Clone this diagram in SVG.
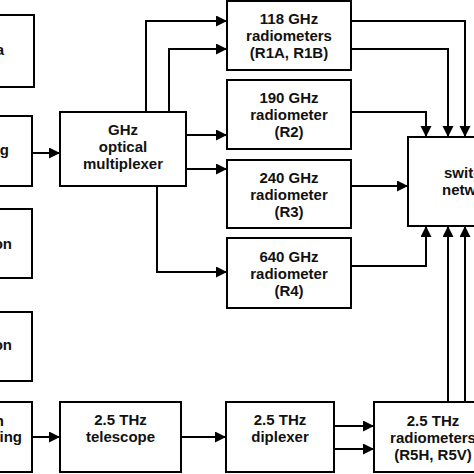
<svg xmlns="http://www.w3.org/2000/svg" width="474" height="474" viewBox="0 0 474 474">
<style>
.box{fill:#fff;stroke:#000;stroke-width:2}
.t{font-family:"Liberation Sans",Arial,sans-serif;font-weight:bold;font-size:15px;fill:#111;text-anchor:middle}
.te{font-family:"Liberation Sans",Arial,sans-serif;font-weight:bold;font-size:15px;fill:#111;text-anchor:end}
.ts{font-family:"Liberation Sans",Arial,sans-serif;font-weight:bold;font-size:15px;fill:#111;text-anchor:start}
.c{fill:none;stroke:#000;stroke-width:2}
</style>
<defs>
<marker id="ah" markerUnits="userSpaceOnUse" markerWidth="12" markerHeight="12" refX="11" refY="5.5" orient="auto">
<path d="M0,0 L11,5.5 L0,11 Z" fill="#000"/>
</marker>
</defs>
<rect width="474" height="474" fill="#fff"/>
<g id="left1"><rect class="box" x="-80" y="15" width="114" height="72"/><text class="te" x="4" y="55">a</text></g>
<g id="left2"><rect class="box" x="-80" y="116" width="112" height="70"/><text class="te" x="9" y="155">g</text></g>
<g id="left3"><rect class="box" x="-80" y="209" width="112" height="69"/><text class="te" x="12" y="249">on</text></g>
<g id="left4"><rect class="box" x="-80" y="312" width="112" height="69"/><text class="te" x="12" y="350">on</text></g>
<g id="left5"><rect class="box" x="-80" y="402" width="112" height="70"/><text class="te" x="4" y="426">n</text><text class="te" x="22" y="442">ing</text></g>
<g id="mux"><rect class="box" x="60" y="112" width="126" height="74"/><text class="t" x="123" y="135">GHz</text><text class="t" x="123" y="152">optical</text><text class="t" x="123" y="169">multiplexer</text></g>
<g id="r118"><rect class="box" x="227" y="1" width="124" height="69"/><text class="t" x="289" y="24">118 GHz</text><text class="t" x="289" y="41">radiometers</text><text class="t" x="289" y="58">(R1A, R1B)</text></g>
<g id="r190"><rect class="box" x="227" y="80" width="124" height="69"/><text class="t" x="289" y="103">190 GHz</text><text class="t" x="289" y="120">radiometer</text><text class="t" x="289" y="137">(R2)</text></g>
<g id="r240"><rect class="box" x="227" y="160" width="124" height="68"/><text class="t" x="289" y="183">240 GHz</text><text class="t" x="289" y="200">radiometer</text><text class="t" x="289" y="217">(R3)</text></g>
<g id="r640"><rect class="box" x="227" y="238" width="124" height="70"/><text class="t" x="289" y="262">640 GHz</text><text class="t" x="289" y="279">radiometer</text><text class="t" x="289" y="296">(R4)</text></g>
<g id="switch"><rect class="box" x="408" y="137" width="140" height="89"/><text class="ts" x="444" y="178">switching</text><text class="ts" x="442" y="195">network</text></g>
<g id="telescope"><rect class="box" x="60" y="402" width="121" height="70"/><text class="t" x="120.5" y="425">2.5 THz</text><text class="t" x="120.5" y="442">telescope</text></g>
<g id="diplexer"><rect class="box" x="226" y="402" width="108" height="70"/><text class="t" x="280" y="425">2.5 THz</text><text class="t" x="280" y="442">diplexer</text></g>
<g id="r25"><rect class="box" x="374" y="402" width="120" height="70"/><text class="t" x="433" y="426">2.5 THz</text><text class="t" x="433" y="443">radiometers</text><text class="t" x="433" y="460">(R5H, R5V)</text></g>
<g id="connectors">
<path class="c" d="M32,153 H60" marker-end="url(#ah)"/>
<path class="c" d="M32,437 H60" marker-end="url(#ah)"/>
<path class="c" d="M146,112 V21 H227" marker-end="url(#ah)"/>
<path class="c" d="M169,112 V49 H227" marker-end="url(#ah)"/>
<path class="c" d="M186,135 H227" marker-end="url(#ah)"/>
<path class="c" d="M186,169 H227" marker-end="url(#ah)"/>
<path class="c" d="M157,186 V272 H227" marker-end="url(#ah)"/>
<path class="c" d="M351,21 H465 V137" marker-end="url(#ah)"/>
<path class="c" d="M351,49 H448 V137" marker-end="url(#ah)"/>
<path class="c" d="M351,112 H426 V137" marker-end="url(#ah)"/>
<path class="c" d="M351,186 H408" marker-end="url(#ah)"/>
<path class="c" d="M351,266 H426 V226" marker-end="url(#ah)"/>
<path class="c" d="M448,402 V226" marker-end="url(#ah)"/>
<path class="c" d="M465,402 V226" marker-end="url(#ah)"/>
<path class="c" d="M181,437 H226" marker-end="url(#ah)"/>
<path class="c" d="M334,426 H374" marker-end="url(#ah)"/>
<path class="c" d="M334,449 H374" marker-end="url(#ah)"/>
</g>
</svg>
